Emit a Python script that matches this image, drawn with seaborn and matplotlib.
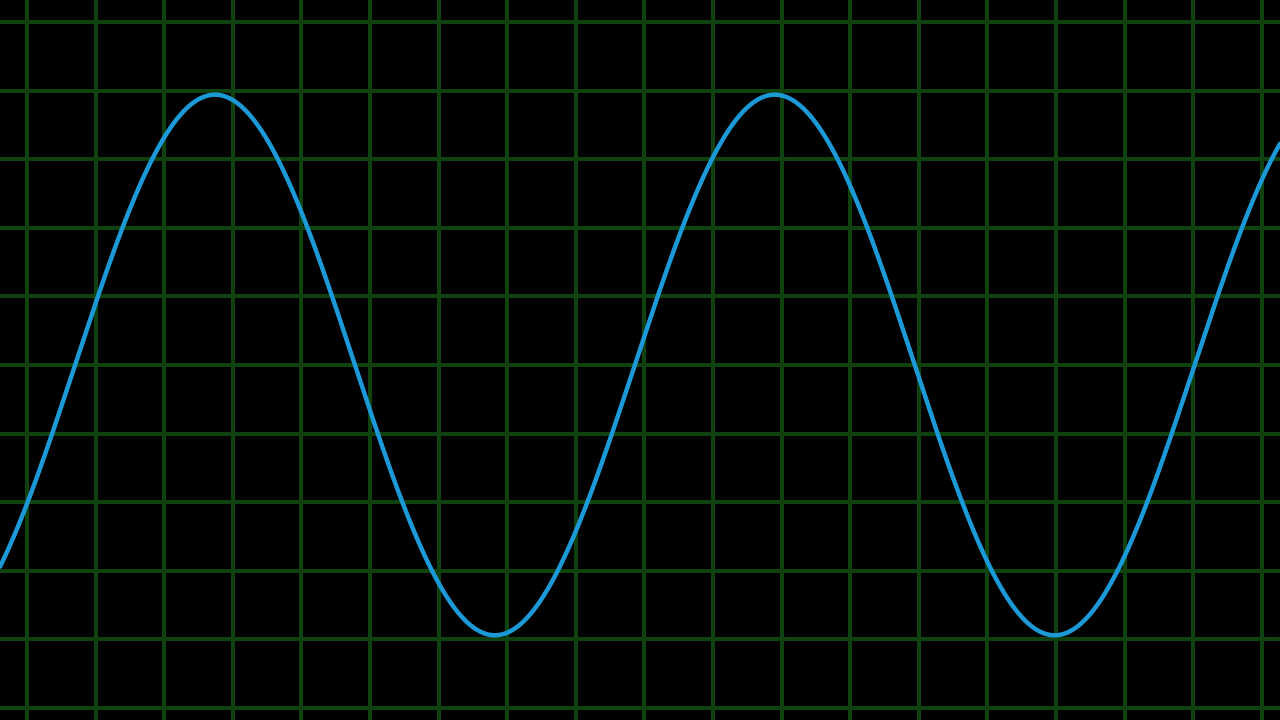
import numpy as np
import pandas as pd
import seaborn as sns
import matplotlib
matplotlib.use("Agg")
import matplotlib.pyplot as plt

# Wave, in grid divisions (one division = one grid square)
amplitude = 3.94        # peak height above the centre line
period = 8.16           # divisions between two peaks
peak_at = 2.74          # x position of the first peak
x_view = [-0.394, 18.265]   # visible x range
y_view = [-5.175, 5.32]     # visible y range
grid_x = list(range(0, 19))
grid_y = list(range(-5, 6))

x = np.linspace(x_view[0], x_view[1], 1200)
wave = pd.DataFrame({"x": x, "y": amplitude * np.cos(2 * np.pi * (x - peak_at) / period)})

sns.set_style("dark")
fig = plt.figure(figsize=(12.8, 7.2), dpi=100, facecolor="black")
ax = fig.add_axes([0, 0, 1, 1])
ax.set_facecolor("black")

# scope grid
for gx in grid_x:
    ax.axvline(gx, color="#0f420f", lw=2.9, zorder=1)
for gy in grid_y:
    ax.axhline(gy, color="#0f420f", lw=2.9, zorder=1)

sns.lineplot(data=wave, x="x", y="y", ax=ax, color="#1c9ad8", lw=3.2, zorder=3)

ax.set_xlim(x_view)
ax.set_ylim(y_view)
ax.set_xticks([])
ax.set_yticks([])
ax.set_xlabel("")
ax.set_ylabel("")
for s in ax.spines.values():
    s.set_visible(False)

fig.savefig("out.png", dpi=100, facecolor="black")
